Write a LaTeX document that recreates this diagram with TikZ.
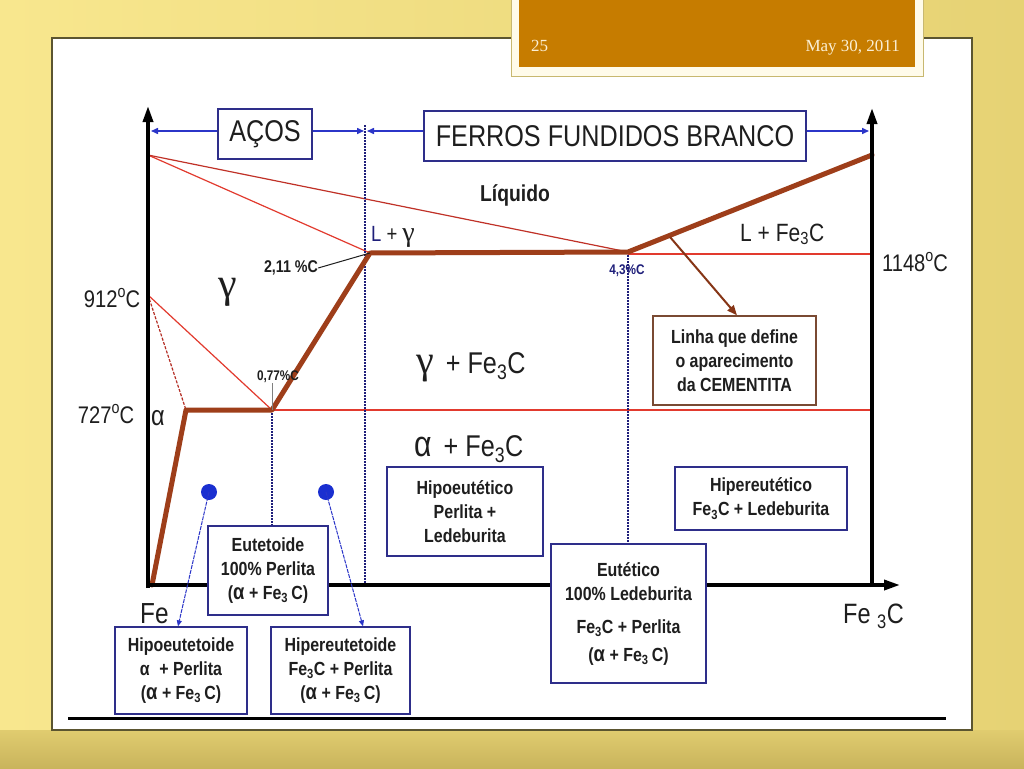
\documentclass[tikz,border=0pt]{standalone}
\usepackage{fontspec}
\setmainfont{Liberation Sans}
\newfontfamily\cond[FakeStretch=0.84]{Liberation Sans}
\newfontfamily\grk{Liberation Serif}
\newfontfamily\hdr{Liberation Serif}
\usetikzlibrary{arrows.meta}
\definecolor{bgL}{HTML}{F8E78E}
\definecolor{bgR}{HTML}{E6D274}
\definecolor{bgBot}{HTML}{C9B45C}
\definecolor{panelB}{HTML}{5B5530}
\definecolor{hdrO}{HTML}{C67C00}
\definecolor{hdrF}{HTML}{FFFBEA}
\definecolor{hdrB}{HTML}{C8B870}
\definecolor{hdrT}{HTML}{FBEFD5}
\definecolor{redc}{HTML}{E23A2E}
\definecolor{brownc}{HTML}{9E3E1A}
\definecolor{dblue}{HTML}{1F1F7A}
\definecolor{ablue}{HTML}{2B35C8}
\definecolor{boxblue}{HTML}{2E2E8A}
\definecolor{brownbox}{HTML}{7A4A33}
\definecolor{txt}{HTML}{1E1E1E}
\definecolor{dotblue}{HTML}{1A2FD0}
\newcommand\fz[2]{\fontsize{#1}{#2}\selectfont}
\newcommand\dgc{\raisebox{0.42em}{\fz{17}{17}o}C}
\begin{document}
\begin{tikzpicture}[x=1pt,y=-1pt,
  axisline/.style={line width=3.5pt,black,-{Triangle[length=16pt,width=10pt]}},
  redline/.style={line width=1.2pt,redc},
  brownline/.style={line width=5pt,brownc,line join=round,line cap=round},
  bluedots/.style={line width=2pt,dblue,dash pattern=on 1.6pt off 1.4pt},
  toparrow/.style={line width=1.5pt,ablue,-{Triangle[length=7pt,width=6pt]}},
  topbox/.style={draw=boxblue,line width=1.3pt,fill=white,font=\cond\fz{30}{30},text=txt,inner sep=0pt},
  bluebox/.style={draw=boxblue,line width=1.3pt,fill=white,align=center,font=\cond\bfseries\fz{19}{24},text=txt,inner sep=0pt},
  lab/.style={font=\cond\fz{30}{30},text=txt,inner sep=0pt},
  tlab/.style={font=\cond\fz{24}{24},text=txt,inner sep=0pt},
  small/.style={font=\cond\bfseries\fz{14}{14},text=txt,inner sep=0pt},
  hdrtext/.style={font=\hdr\fz{17}{17},text=hdrT,inner sep=0pt}
]
\useasboundingbox (0,0) rectangle (1024,768);
% background
\shade[left color=bgL,right color=bgR] (0,0) rectangle (1024,768);
\shade[top color=bgR!80!bgBot,bottom color=bgBot] (0,730) rectangle (1024,768);
\draw[line width=1.3pt,panelB,fill=white] (52,38) rectangle (972,730);
% header
\draw[hdrB,line width=0.8pt,fill=hdrF] (511,-2) rectangle (923,76);
\fill[hdrO] (519,-2) rectangle (915,67);
\node[hdrtext,anchor=base west] (pg) at (531,52) {25};
\node[hdrtext,anchor=base east] (dt) at (900,52) {May 30, 2011};
% bottom line
\draw[line width=3pt,black] (68,718) -- (946,718);

% key coordinates
\coordinate (O) at (148,585);
\coordinate (ytop) at (148,106);
\coordinate (xend) at (900,585);
\coordinate (R0) at (872,587);
\coordinate (rtop) at (872,108);
\coordinate (fe) at (152,585);
\coordinate (a) at (186,410);
\coordinate (e) at (272,410);
\coordinate (c) at (370,253);
\coordinate (eu) at (628,252);
\coordinate (ct) at (872,155);
\coordinate (melt) at (148,155);
\coordinate (t9) at (148,295);
\coordinate (r727) at (872,410);
\coordinate (r1148a) at (628,254);
\coordinate (r1148b) at (872,254);

% red lines
\draw[redline] (melt) -- (c);
\draw[redline,redc!85!black] (melt) -- (eu);
\draw[redline] (t9) -- (e);
\draw[redline,dash pattern=on 3pt off 1.5pt,redc!80!black] (t9) -- (a);
\draw[redline] (a) -- (r727);
\draw[redline] (r1148a) -- (r1148b);

% dotted blue verticals
\coordinate (v1t) at (365,125);
\coordinate (v1b) at (365,585);
\coordinate (v2b) at (272,526);
\coordinate (v3b) at (628,544);
\draw[bluedots] (v1t) -- (v1b);
\draw[bluedots] (e) -- (v2b);
\draw[bluedots] (eu) -- (v3b);

% brown phase line
\draw[brownline] (fe) -- (a) -- (e) -- (c) -- (eu) -- (ct);

% axes
\draw[axisline] (148,588) -- (ytop);
\draw[axisline] (146,585) -- (xend);
\draw[axisline] (R0) -- (rtop);

% top bar
\node[topbox,minimum width=94pt,minimum height=50pt] (acos) at (265,134) {AÇOS};
\node[topbox,minimum width=382pt,minimum height=50pt] (ferros) at (615,136) {FERROS FUNDIDOS BRANCO};
\coordinate (bl) at (151,131);
\coordinate (bm1) at (364,131);
\coordinate (bm2) at (367,131);
\coordinate (br) at (869,131);
\draw[toparrow] (acos.west |- bl) -- (bl);
\draw[toparrow] (acos.east |- bl) -- (bm1);
\draw[toparrow] (ferros.west |- bl) -- (bm2);
\draw[toparrow] (ferros.east |- bl) -- (br);

% labels
\node[font=\cond\bfseries\fz{23}{23},text=txt,inner sep=0pt] (liq) at (515,195) {Líquido};
\node[font=\cond\fz{22}{22},text=txt,inner sep=0pt] (lg) at (393,237) {\textcolor{dblue}{L} + {\grk\fz{28}{28}γ}};
\node[font=\grk\fz{42}{42},text=txt,inner sep=0pt] (gam) at (228,292) {γ};
\node[font=\cond\fz{28}{28},text=txt,inner sep=0pt] (alf) at (158,418) {α};
\node[tlab] (t912) at (112,298) {912\dgc};
\node[tlab] (t727) at (106,414) {727\dgc};
\node[tlab] (t1148) at (915,262) {1148\dgc};
\node[lab,anchor=base west] (gfe) at (416,373) {{\grk\fz{40}{40}γ} \,+ Fe\textsubscript{3}C};
\node[lab,anchor=base west] (afe) at (414,456) {{\fz{36}{36}α} \,+ Fe\textsubscript{3}C};
\node[font=\cond\fz{25}{25},text=txt,inner sep=0pt,anchor=base west] (lfe) at (740,241) {L + Fe\textsubscript{3}C};
\node[font=\cond\fz{29}{29},text=txt,inner sep=0pt,anchor=base west] (fel) at (140,623) {Fe};
\node[font=\cond\fz{28}{28},text=txt,inner sep=0pt,anchor=base west] (fcl) at (843,623) {Fe \textsubscript{3}C};
\node[font=\cond\bfseries\fz{17}{17},text=txt,inner sep=0pt] (p211) at (291,268) {2,11 \%C};
\node[small] (p077) at (278,377) {0,77\%C};
\node[small,text=dblue] (p43) at (627,271) {4,3\%C};
\draw[line width=1pt,txt] (p211.east) -- (c);
\draw[line width=0.8pt,gray] (p077.south -| e) -- (e);

% boxes
\node[bluebox,minimum width=156pt,minimum height=89pt] (hipoec) at (465,511.5) {Hipoeutético\\Perlita +\\Ledeburita};
\node[bluebox,minimum width=172pt,minimum height=63pt] (hiperec) at (761,498.5) {Hipereutético\\Fe\textsubscript{3}C + Ledeburita};
\node[bluebox,minimum width=155pt,minimum height=139pt] (eutec) at (628.5,613.5) {Eutético\\100\% Ledeburita\\[9pt]Fe\textsubscript{3}C + Perlita\\[4pt]({\fz{22}{22}α} + Fe\textsubscript{3}\,C)};
\node[bluebox,minimum width=120pt,minimum height=89pt] (eutetoide) at (268,570.5) {Eutetoide\\100\% Perlita\\({\fz{22}{22}α} + Fe\textsubscript{3}\,C)};
\node[bluebox,minimum width=132pt,minimum height=87pt] (hipoet) at (181,670.5) {Hipoeutetoide\\α \;+ Perlita\\({\fz{22}{22}α} + Fe\textsubscript{3}\,C)};
\node[bluebox,minimum width=139pt,minimum height=87pt] (hiperet) at (340.5,670.5) {Hipereutetoide\\Fe\textsubscript{3}C + Perlita\\({\fz{22}{22}α} + Fe\textsubscript{3}\,C)};
\node[bluebox,draw=brownbox,minimum width=163pt,minimum height=89pt] (linha) at (734.5,360.5) {Linha que define\\o aparecimento\\da CEMENTITA};

% blue dots and arrows
\coordinate (d1c) at (209,492);
\coordinate (d2c) at (326,492);
\fill[dotblue] (d1c) circle (8);
\fill[dotblue] (d2c) circle (8);
\draw[line width=1pt,ablue,dash pattern=on 4pt off 1pt,-{Triangle[length=6pt,width=5pt]}] (d1c) -- (hipoet.north -| 178,0);
\draw[line width=1pt,ablue,dash pattern=on 4pt off 1pt,-{Triangle[length=6pt,width=5pt]}] (d2c) -- (hiperet.north -| 363,0);

% brown arrow
\coordinate (lp) at (670,237);
\draw[line width=2pt,brownc!85!black,-{Triangle[length=10pt,width=8pt]}] (lp) -- (linha.north -| 737,0);
\end{tikzpicture}
\end{document}
